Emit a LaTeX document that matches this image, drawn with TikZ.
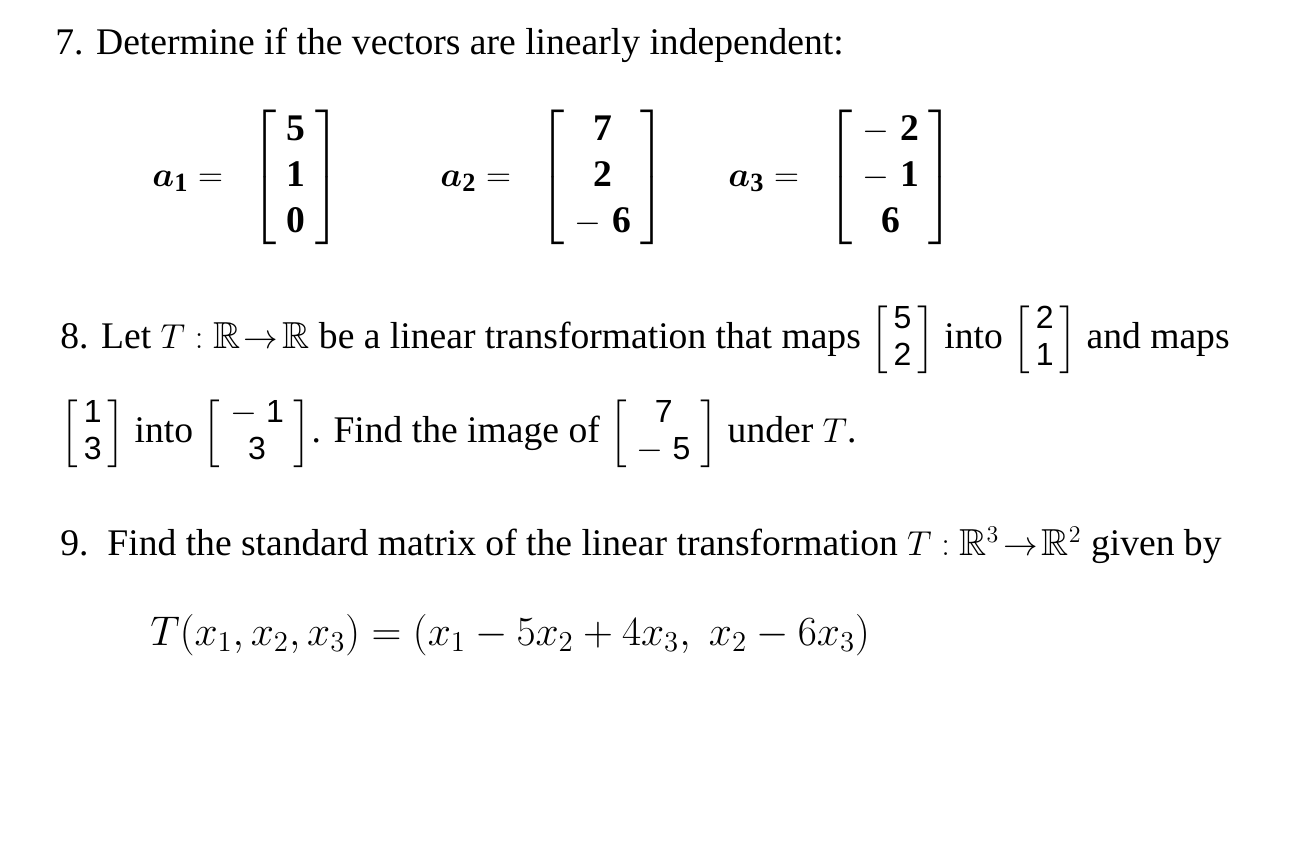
\documentclass[tikz,border=0pt]{standalone}
\usepackage{amsmath,amssymb,bm}
\usepackage{fontspec}
\setmainfont{Liberation Serif}
\newfontfamily\arl{Liberation Sans}
\tikzset{txt/.style={anchor=base west,inner sep=0pt,font=\fontsize{18.8}{22}\selectfont}}
\newcommand{\bv}[3]{\left[\renewcommand{\arraystretch}{1.05}\begin{array}{c}\textbf{#1}\\\textbf{#2}\\\textbf{#3}\end{array}\right]}
\newcommand{\sv}[2]{\left[\renewcommand{\arraystretch}{0.85}\begin{array}{@{\,}c@{\,}}\text{\arl\fontsize{16}{17}\selectfont #1}\\\text{\arl\fontsize{16}{17}\selectfont #2}\end{array}\right]}
\begin{document}
\begin{tikzpicture}[x=0.5pt,y=-0.5pt]
\useasboundingbox (0,0) rectangle (1300,856);
\node[txt] (l7) at (55,55) {7. Determine if the vectors are linearly independent:};
\node[txt] (a1) at (152,186) {$\bm{a}_{\mathbf{1}}=\;\;\bv{5}{1}{0}$};
\node[txt] (a2) at (440,186) {$\bm{a}_{\mathbf{2}}=\;\;\bv{7}{2}{$-$\;6}$};
\node[txt] (a3) at (728,186) {$\bm{a}_{\mathbf{3}}=\;\;\bv{$-$\;2}{$-$\;1}{6}$};
\node[txt] (l8) at (60,348) {8. Let $T:\mathbb{R}\!\rightarrow\!\mathbb{R}$ be a linear transformation that maps $\sv{5}{2}$ into $\sv{2}{1}$ and maps};
\node[txt] (l8b) at (60,442) {$\sv{1}{3}$ into $\left[\renewcommand{\arraystretch}{0.85}\begin{array}{c}\text{\arl\fontsize{16}{17}\selectfont $-$ 1}\\\text{\arl\fontsize{16}{17}\selectfont 3}\end{array}\right]$. Find the image of $\left[\renewcommand{\arraystretch}{0.85}\begin{array}{c}\text{\arl\fontsize{16}{17}\selectfont 7}\\\text{\arl\fontsize{16}{17}\selectfont $-$ 5}\end{array}\right]$ under $T$.};
\node[txt] (l9) at (60,555) {9.\ \ Find the standard matrix of the linear transformation $T:\mathbb{R}^3\!\rightarrow\!\mathbb{R}^2$ given by};
\node[txt,font=\fontsize{21.3}{24}\selectfont] (eq) at (150,645) {$T(x_1,x_2,x_3)=(x_1-5x_2+4x_3,\;x_2-6x_3)$};
\end{tikzpicture}
\end{document}
